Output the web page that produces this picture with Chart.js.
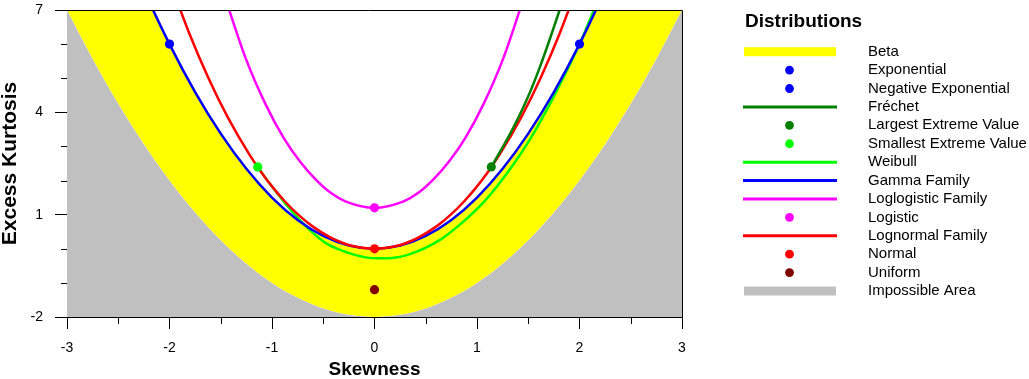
<!DOCTYPE html>
<html>
<head>
<meta charset="utf-8">
<script src="https://cdn.jsdelivr.net/npm/chart.js@4.4.1/dist/chart.umd.min.js"></script>
<style>
html, body { margin: 0; padding: 0; background: #ffffff; }
#wrap { width: 1029px; height: 379px; }
</style>
</head>
<body>
<div id="wrap"><canvas id="c" width="1029" height="379"></canvas></div>
<script>
// ---------------- data ----------------
const xTickValues = [-3, -2, -1, 0, 1, 2, 3];
const xMinorTickValues = [-2.5, -1.5, -0.5, 0.5, 1.5, 2.5];
const yTickValues = [-2, 1, 4, 7];
const yMinorTickValues = [-1, 0, 2, 3, 5, 6];

// boundary grid (skewness) used by the impossible area and the gamma / beta boundary
const boundarySkew = [-3, -2.75, -2.5, -2.25, -2, -1.75, -1.5, -1.25, -1, -0.75, -0.5, -0.25, 0,
                      0.25, 0.5, 0.75, 1, 1.25, 1.5, 1.75, 2, 2.25, 2.5, 2.75, 3];
const impossibleKurt = [7, 5.5625, 4.25, 3.0625, 2, 1.0625, 0.25, -0.4375, -1, -1.4375, -1.75, -1.9375, -2,
                        -1.9375, -1.75, -1.4375, -1, -0.4375, 0.25, 1.0625, 2, 3.0625, 4.25, 5.5625, 7];
const gammaKurt = [13.5, 11.34375, 9.375, 7.59375, 6, 4.59375, 3.375, 2.34375, 1.5, 0.84375, 0.375, 0.09375, 0,
                   0.09375, 0.375, 0.84375, 1.5, 2.34375, 3.375, 4.59375, 6, 7.59375, 9.375, 11.34375, 13.5];

const lognormalSkew = [-1.982, -1.8075, -1.625, -1.4311, -1.22, -1.1049, -0.9803, -0.8711, -0.7495, -0.608, -0.4271, -0.301, -0.2125, 0,
                       0.2125, 0.301, 0.4271, 0.608, 0.7495, 0.8711, 0.9803, 1.1049, 1.22, 1.4311, 1.625, 1.8075, 1.982];
const lognormalKurt = [7.71, 6.32, 5.035, 3.85, 2.758, 2.246, 1.756, 1.379, 1.015, 0.664, 0.326, 0.1615, 0.0804, 0,
                       0.0804, 0.1615, 0.326, 0.664, 1.015, 1.379, 1.756, 2.246, 2.758, 3.85, 5.035, 6.32, 7.71];

const loglogisticSkew = [-1.463, -1.2535, -1.0635, -0.888, -0.725, -0.57, -0.4275, -0.284, 0,
                         0.284, 0.4275, 0.57, 0.725, 0.888, 1.0635, 1.2535, 1.463];
const loglogisticKurt = [7.41, 5.56, 4.24, 3.26, 2.55, 2.02, 1.64, 1.39, 1.2,
                         1.39, 1.64, 2.02, 2.55, 3.26, 4.24, 5.56, 7.41];

const weibullSkew = [-1.1395, -1.03, -0.874, -0.638, -0.458, -0.254, -0.087, 0.03, 0.168, 0.359, 0.631, 0.83, 1.072, 1.3, 1.521, 1.75, 2, 2.345];
const weibullKurt = [2.4, 1.94, 1.34, 0.57, 0.135, -0.119, -0.252, -0.28, -0.2705, -0.143, 0.245, 0.7, 1.39, 2.245, 3.23, 4.47, 6, 8.53];

const frechetSkew = [1.1395, 1.225, 1.327, 1.484, 1.615, 1.806, 1.87];
const frechetKurt = [2.4, 2.85, 3.39, 4.36, 5.34, 7.0, 7.6];

const markerLabels = ['Exponential', 'Negative Exponential', 'Largest Extreme Value', 'Smallest Extreme Value', 'Logistic', 'Normal', 'Uniform'];
const markerSkew = [2, -2, 1.1395, -1.1395, 0, 0, 0];
const markerKurt = [6, 6, 2.4, 2.4, 1.2, 0, -1.2];

const legendLabels = ['Beta', 'Exponential', 'Negative Exponential', 'Fréchet', 'Largest Extreme Value',
                      'Smallest Extreme Value', 'Weibull', 'Gamma Family', 'Loglogistic Family', 'Logistic',
                      'Lognormal Family', 'Normal', 'Uniform', 'Impossible Area'];

// ---------------- styles ----------------
const COLORS = {
  'Beta': '#FFFF00', 'Impossible Area': '#C0C0C0',
  'Exponential': '#0000FF', 'Negative Exponential': '#0000FF',
  'Fréchet': '#008000', 'Largest Extreme Value': '#008000', 'Smallest Extreme Value': '#00FF00',
  'Weibull': '#00FF00', 'Gamma Family': '#0000FF', 'Loglogistic Family': '#FF00FF', 'Logistic': '#FF00FF',
  'Lognormal Family': '#FF0000', 'Normal': '#FF0000', 'Uniform': '#800000'
};
const KIND = {
  'Beta': 'band', 'Impossible Area': 'band',
  'Fréchet': 'line', 'Weibull': 'line', 'Gamma Family': 'line', 'Loglogistic Family': 'line', 'Lognormal Family': 'line'
};
const FONT = "'Liberation Sans', Arial, Helvetica, sans-serif";

const pts = (xs, ys) => xs.map((x, i) => ({ x: x, y: ys[i] }));

function curve(label, xs, ys, order) {
  return {
    label: label, data: pts(xs, ys), borderColor: COLORS[label], backgroundColor: COLORS[label],
    borderWidth: 2.5, pointRadius: 0, pointHoverRadius: 0, fill: false,
    cubicInterpolationMode: 'monotone', order: order
  };
}

const datasets = [];
// markers on top
markerLabels.forEach((lab, i) => {
  datasets.push({
    label: lab, data: [{ x: markerSkew[i], y: markerKurt[i] }], showLine: false,
    pointRadius: 4.6, pointHoverRadius: 4.6, pointBorderWidth: 0,
    pointBackgroundColor: COLORS[lab], borderColor: COLORS[lab], backgroundColor: COLORS[lab], order: 1
  });
});
datasets.push(curve('Fréchet', frechetSkew, frechetKurt, 2));
datasets.push(curve('Lognormal Family', lognormalSkew, lognormalKurt, 3));
datasets.push(curve('Loglogistic Family', loglogisticSkew, loglogisticKurt, 4));
const gammaDs = curve('Gamma Family', boundarySkew, gammaKurt, 5);
datasets.push(gammaDs);
datasets.push(curve('Weibull', weibullSkew, weibullKurt, 6));
const impossibleIndex = datasets.length;
datasets.push({
  label: 'Impossible Area', data: pts(boundarySkew, impossibleKurt), borderWidth: 0, borderColor: 'rgba(0,0,0,0)',
  backgroundColor: COLORS['Impossible Area'], pointRadius: 0, pointHoverRadius: 0,
  fill: 'start', cubicInterpolationMode: 'monotone', order: 7
});
// beta region: between the gamma line and the impossible boundary
gammaDs.fill = { target: impossibleIndex, above: COLORS['Beta'], below: 'rgba(0,0,0,0)' };

// ---------------- plugins ----------------
const extrasPlugin = {
  id: 'extras',
  afterDatasetsDraw(chart) {
    const { ctx, chartArea: a, scales: { x, y } } = chart;
    ctx.save();
    ctx.strokeStyle = '#000';
    ctx.lineWidth = 1;
    ctx.beginPath();
    // frame: top and right
    ctx.moveTo(a.left - 12, Math.round(a.top) + 0.5);
    ctx.lineTo(Math.round(a.right) + 0.5, Math.round(a.top) + 0.5);
    ctx.lineTo(Math.round(a.right) + 0.5, Math.round(a.bottom) + 0.5);
    // minor ticks
    xMinorTickValues.forEach(v => {
      const px = Math.round(x.getPixelForValue(v)) + 0.5;
      ctx.moveTo(px, a.bottom);
      ctx.lineTo(px, a.bottom + 7);
    });
    yMinorTickValues.forEach(v => {
      const py = Math.round(y.getPixelForValue(v)) + 0.5;
      ctx.moveTo(a.left - 6, py);
      ctx.lineTo(a.left, py);
    });
    ctx.stroke();
    ctx.restore();
  },
  afterDraw(chart) {
    const { ctx, chartArea: a } = chart;
    const x0 = a.right + 61;
    ctx.save();
    ctx.fillStyle = '#000';
    ctx.textAlign = 'left';
    ctx.textBaseline = 'middle';
    ctx.font = 'bold 19px ' + FONT;
    ctx.fillText('Distributions', x0 + 2, 22);
    ctx.font = '15px ' + FONT;
    legendLabels.forEach((name, i) => {
      const cy = 51.7 + i * 18.41;
      const col = COLORS[name];
      const kind = KIND[name] || 'dot';
      if (kind === 'band') {
        ctx.fillStyle = col;
        ctx.fillRect(x0 + 1, cy - 4.5, 92, 9);
      } else if (kind === 'line') {
        ctx.strokeStyle = col;
        ctx.lineWidth = 3;
        ctx.beginPath();
        ctx.moveTo(x0, cy);
        ctx.lineTo(x0 + 94, cy);
        ctx.stroke();
      } else {
        ctx.fillStyle = col;
        ctx.beginPath();
        ctx.arc(x0 + 46.5, cy, 4.4, 0, Math.PI * 2);
        ctx.fill();
      }
      ctx.fillStyle = '#000';
      ctx.fillText(name, x0 + 125, cy);
    });
    ctx.restore();
  }
};

// ---------------- chart ----------------
Chart.defaults.font.family = FONT;
Chart.defaults.color = '#000';

new Chart(document.getElementById('c'), {
  type: 'line',
  data: { datasets: datasets },
  options: {
    responsive: false,
    animation: false,
    devicePixelRatio: 1,
    layout: { autoPadding: false, padding: { left: 0, right: 347, top: 10, bottom: 0 } },
    plugins: {
      legend: { display: false },
      tooltip: { enabled: false },
      filler: { drawTime: 'beforeDatasetsDraw' }
    },
    elements: { line: { tension: 0 } },
    scales: {
      x: {
        type: 'linear', min: -3, max: 3,
        afterFit(scale) { scale.height = 62; scale.paddingLeft = 0; scale.paddingRight = 0; },
        afterBuildTicks(scale) { scale.ticks = xTickValues.map(v => ({ value: v })); },
        ticks: { font: { size: 14 }, padding: 11, color: '#000', maxRotation: 0 },
        grid: { drawOnChartArea: false, drawTicks: true, tickLength: 12, color: '#000', tickColor: '#000', lineWidth: 1 },
        border: { display: true, color: '#000', width: 1 },
        title: { display: true, text: 'Skewness', font: { size: 19, weight: 'bold', lineHeight: 1 }, padding: 0, color: '#000' }
      },
      y: {
        type: 'linear', min: -2, max: 7,
        afterFit(scale) { scale.width = 67; scale.paddingTop = 0; scale.paddingBottom = 0; },
        afterBuildTicks(scale) { scale.ticks = yTickValues.map(v => ({ value: v })); },
        ticks: { font: { size: 14 }, padding: 12, color: '#000' },
        grid: { drawOnChartArea: false, drawTicks: true, tickLength: 12, color: '#000', tickColor: '#000', lineWidth: 1 },
        border: { display: false },
        title: { display: true, text: 'Excess Kurtosis', font: { size: 21, weight: 'bold', lineHeight: 1 }, padding: 0, color: '#000' }
      }
    }
  },
  plugins: [extrasPlugin]
});
</script>
</body>
</html>
